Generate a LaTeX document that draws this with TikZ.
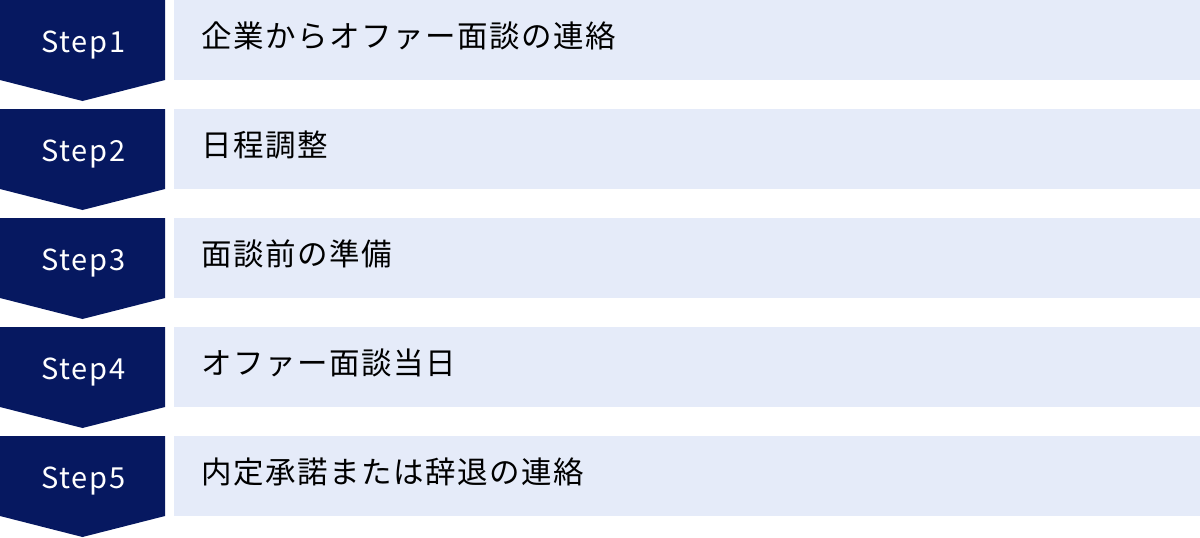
\documentclass[tikz,border=0pt]{standalone}
\usepackage{fontspec}
\setmainfont{Noto Sans CJK JP}
\newfontfamily\stepfont[LetterSpace=6]{Noto Sans CJK JP}
\newfontfamily\rowfont[LetterSpace=5]{Noto Sans CJK JP}
\definecolor{navy}{RGB}{6,24,96}
\definecolor{pale}{RGB}{229,235,249}
\begin{document}
\begin{tikzpicture}[x=1pt,y=-1pt,
  stepshape/.style={fill=navy,draw=none},
  rowbox/.style={fill=pale,draw=none},
  steplabel/.style={text=white,font=\stepfont\fontsize{29}{29}\selectfont,inner sep=0pt,anchor=base},
  rowlabel/.style={text=black,font=\rowfont\fontsize{30.5}{30.5}\selectfont,inner sep=0pt,anchor=base west}]
\useasboundingbox (0,0) rectangle (1200,538);
\foreach \i/\t in {1/企業からオファー面談の連絡,2/日程調整,3/面談前の準備,4/オファー面談当日,5/内定承諾または辞退の連絡}{
  \pgfmathsetmacro{\top}{(\i-1)*109}
  \fill[stepshape] (0,\top) -- (165,\top) -- (165,\top+80) -- (82.5,\top+101) -- (0,\top+80) -- cycle;
  \fill[rowbox] (174,\top) rectangle (1200,\top+80);
  \node[steplabel] (s\i) at (83.5,\top+52) {Step\i};
  \node[rowlabel] (r\i) at (201,\top+47.5) {\t};
}
\end{tikzpicture}
\end{document}
